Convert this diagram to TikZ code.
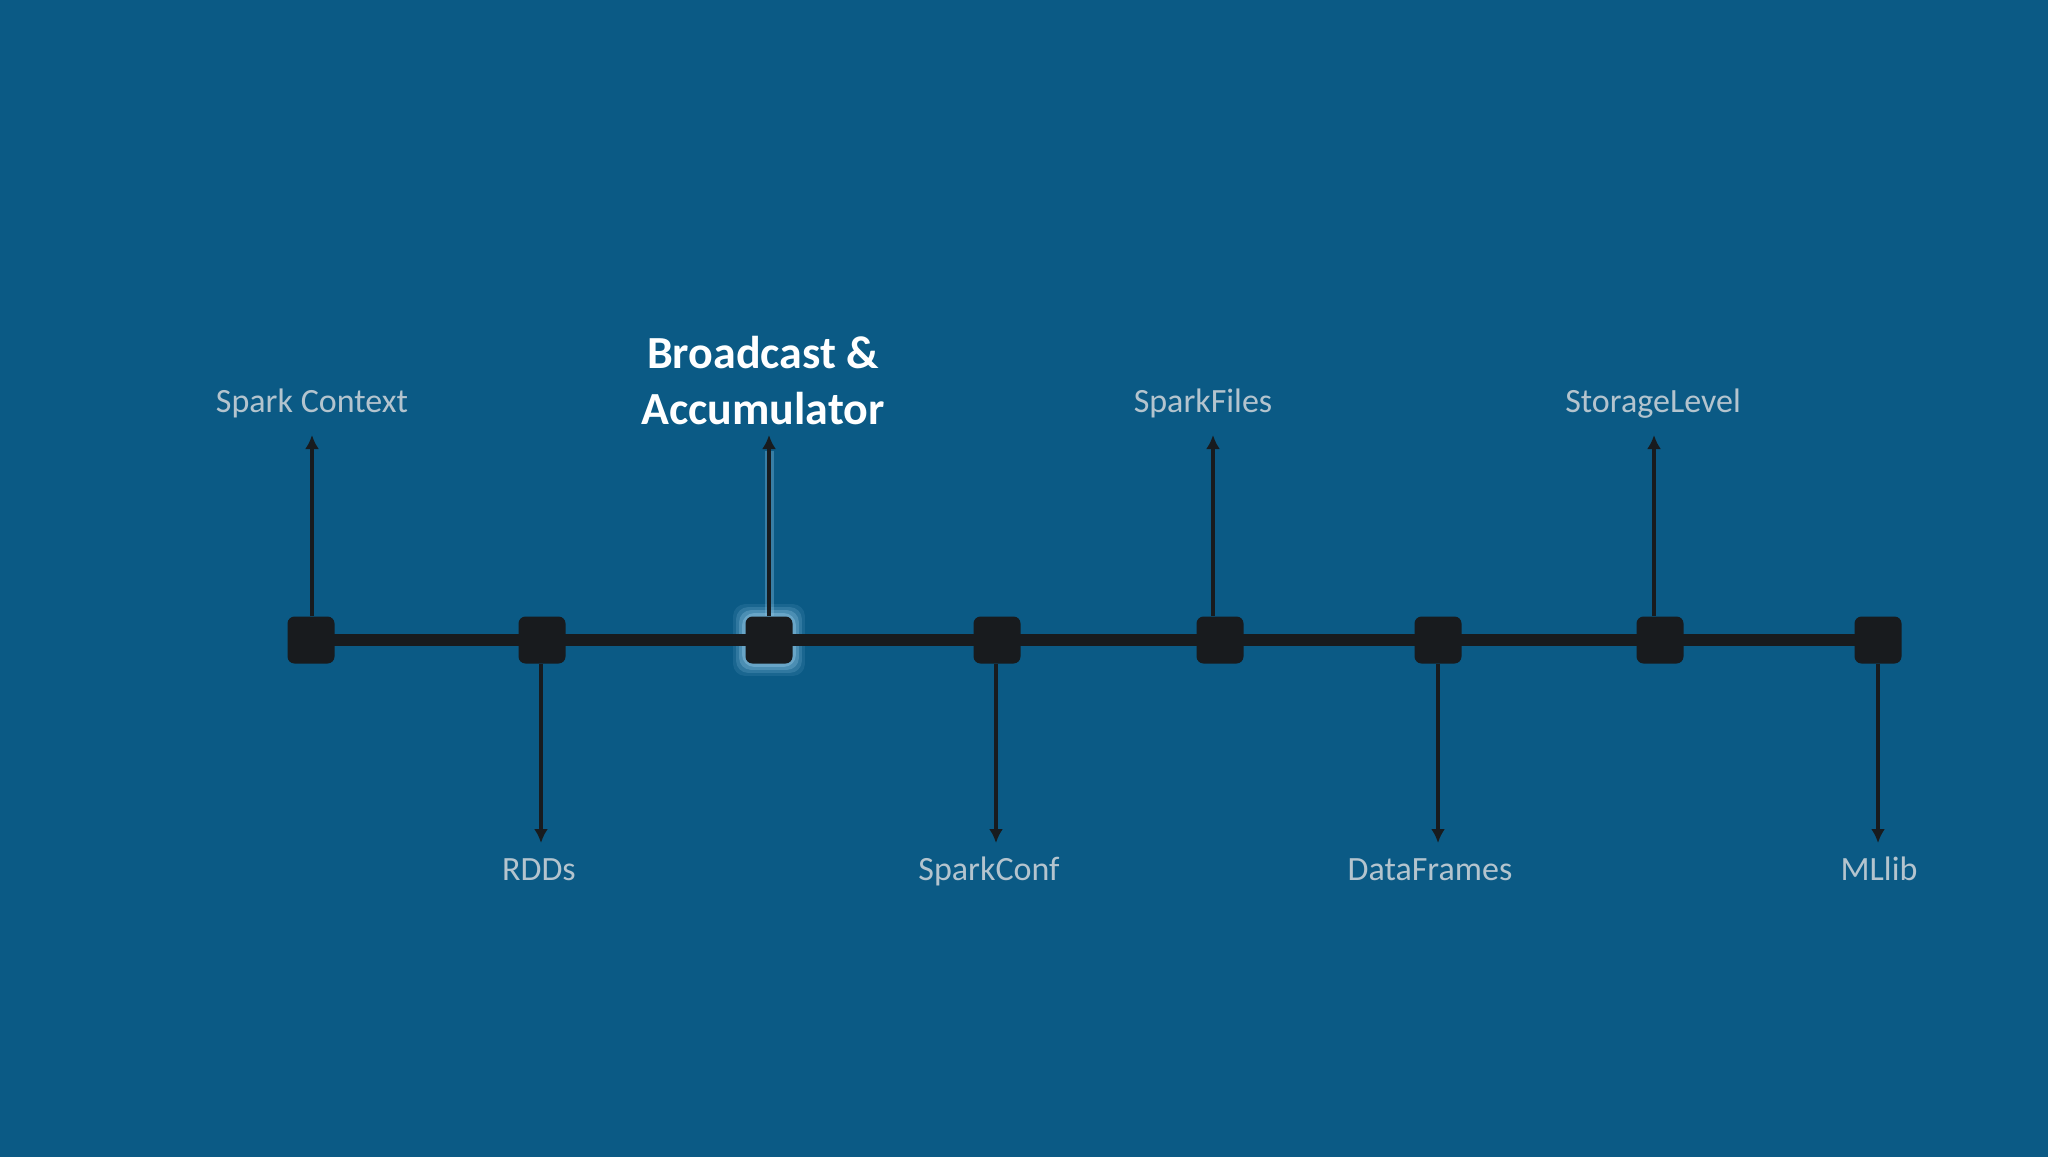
\documentclass[tikz,border=0pt]{standalone}
\usepackage{fontspec}
\setmainfont{Carlito}
\usetikzlibrary{arrows.meta}
\pgfdeclarelayer{background}
\pgfsetlayers{background,main}
\definecolor{slidebg}{RGB}{11,90,133}
\definecolor{barcol}{RGB}{24,27,30}
\definecolor{labelgray}{RGB}{180,196,206}
\definecolor{glowcol}{RGB}{140,195,225}
\tikzset{
	station/.style={rectangle,rounded corners=3.5pt,fill=barcol,minimum size=23.5pt,inner sep=0pt},
	topic/.style={text=labelgray,font=\fontsize{17}{20}\selectfont,inner sep=0pt,anchor=base},
	current/.style={text=white,font=\fontsize{23}{28}\selectfont\bfseries,align=center,inner sep=0pt,anchor=south},
	pointer/.style={-{Latex[length=7pt,width=7pt]},line width=2.3pt,draw=barcol},
	track/.style={line width=6pt,draw=barcol}
}

\begin{document}
\begin{tikzpicture}[x=0.5pt,y=-0.5pt]

        \useasboundingbox (0,0) rectangle (2048,1157);

        % ==================================================
        % 1. STATIONS ON THE TRACK
        % ==================================================
        \foreach \x [count=\i] in {311,542,769,997,1220,1438,1660,1878}
            \node[station] (s\i) at (\x,640) {};

        % arrow tips
        \coordinate (e1) at (312,435);
        \coordinate (e2) at (541,843);
        \coordinate (e3) at (769,435);
        \coordinate (e4) at (996,843);
        \coordinate (e5) at (1213,435);
        \coordinate (e6) at (1438,843);
        \coordinate (e7) at (1654,435);
        \coordinate (e8) at (1878,843);

        \begin{pgfonlayer}{background}
            % background of the slide
            \fill[slidebg] (0,0) rectangle (2048,1157);
            % glow round the current station
            \foreach \g/\o in {12/0.12,9/0.2,6/0.3,3/0.45}
                \fill[glowcol,opacity=\o,rounded corners=6pt]
                    ([shift={(-\g,-\g)}]s3.north west) rectangle ([shift={(\g,\g)}]s3.south east);
            \draw[glowcol,opacity=0.35,line width=4.5pt] (e3 |- s3.north) -- ([yshift=-8pt]e3);
            % the track
            \draw[track] (s1.center) -- (s8.center);
        \end{pgfonlayer}

        % ==================================================
        % 2. ARROWS
        % ==================================================
        \foreach \i in {1,3,5,7}
            \draw[pointer] (e\i |- s\i.north) -- (e\i);
        \foreach \i in {2,4,6,8}
            \draw[pointer] (e\i |- s\i.south) -- (e\i);

        % ==================================================
        % 3. LABELS
        % ==================================================
        \node[topic] (t1) at (312,412) {Spark Context};
        \node[current] (t3) at (763,425) {Broadcast \&\\Accumulator};
        \node[topic] (t5) at (1203,412) {SparkFiles};
        \node[topic] (t7) at (1653,412) {StorageLevel};

        \node[topic] (t2) at (539,880) {RDDs};
        \node[topic] (t4) at (989,880) {SparkConf};
        \node[topic] (t6) at (1430,880) {DataFrames};
        \node[topic] (t8) at (1879,880) {MLlib};

\end{tikzpicture}
\end{document}
